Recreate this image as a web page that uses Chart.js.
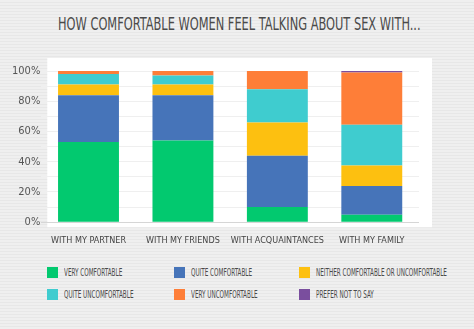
<!DOCTYPE html>
<html>
<head>
<meta charset="utf-8">
<script src="https://cdn.jsdelivr.net/npm/chart.js@4"></script>
<style>
    html, body { margin: 0; padding: 0; }
    body {
        width: 474px; height: 329px; overflow: hidden; position: relative;
        background: #ededed;
        background-image: repeating-linear-gradient(180deg, #efefef 0px, #efefef 2px, #e7e7e7 2px, #e7e7e7 3px);
        font-family: "Liberation Sans Narrow", "DejaVu Sans Condensed", sans-serif;
        color: #4a4a4a;
    }
    #title {
        position: absolute; left: 58px; top: 14px;
        font-size: 17px; white-space: nowrap;
    }
    #title span { display: inline-block; transform: scaleX(0.745); transform-origin: left center; }
    #chartBox { position: absolute; left: 0; top: 0; width: 474px; height: 255px; }
    #legend { position: absolute; left: 0; top: 267px; width: 474px; }
    .lg-item { position: absolute; height: 12px; white-space: nowrap; font-size: 10px; line-height: 12px; }
    .lg-item i { position: absolute; left: 0; top: 0; width: 11px; height: 11px; }
    .lg-item span { position: absolute; left: 17px; top: 0; display: inline-block; transform: scaleX(0.63); transform-origin: left center; }
</style>
</head>
<body>
<div id="title"><span>HOW COMFORTABLE WOMEN FEEL TALKING ABOUT SEX WITH...</span></div>
<div id="chartBox"><canvas id="chart"></canvas></div>
<div id="legend"></div>
<script>
    // ---- Data ----
    const categories = ["WITH MY PARTNER", "WITH MY FRIENDS", "WITH ACQUAINTANCES", "WITH MY FAMILY"];
    const seriesNames = [
        "VERY COMFORTABLE",
        "QUITE COMFORTABLE",
        "NEITHER COMFORTABLE OR UNCOMFORTABLE",
        "QUITE UNCOMFORTABLE",
        "VERY UNCOMFORTABLE",
        "PREFER NOT TO SAY",
    ];
    const veryComfortable     = [53, 54, 10, 5];
    const quiteComfortable    = [31, 30, 34, 19];
    const neither             = [7, 7, 22, 13.5];
    const quiteUncomfortable  = [7, 6, 22, 27];
    const veryUncomfortable   = [2, 3, 12, 34.5];
    const preferNotToSay      = [0, 0, 0, 1];
    const yTicks = [0, 20, 40, 60, 80, 100];

    const COLORS = ["#02c96f", "#4674b9", "#fdc010", "#3fcccf", "#fe7e38", "#7a4e9e"];
    const series = [veryComfortable, quiteComfortable, neither, quiteUncomfortable, veryUncomfortable, preferNotToSay];
    const FONT = "'Liberation Sans Narrow', 'DejaVu Sans Condensed', sans-serif";

    // white card behind the plot
    const panelPlugin = {
        id: "panel",
        beforeDraw(chart) {
            const a = chart.chartArea, ctx = chart.ctx;
            ctx.save();
            ctx.fillStyle = "#ffffff";
            ctx.fillRect(a.left + 6, a.top - 13, a.right - a.left + 7, a.bottom - a.top + 18);
            ctx.restore();
        },
    };

    const chart = new Chart(document.getElementById("chart"), {
        type: "bar",
        data: {
            labels: categories,
            datasets: series.map((d, i) => ({
                label: seriesNames[i],
                data: d,
                backgroundColor: COLORS[i],
                borderWidth: 0,
                barPercentage: 0.645,
                categoryPercentage: 1,
            })),
        },
        options: {
            responsive: true,
            maintainAspectRatio: false,
            animation: false,
            layout: { padding: { top: 71, left: 11, right: 55, bottom: 4 } },
            plugins: { legend: { display: false }, tooltip: { enabled: false } },
            scales: {
                x: {
                    stacked: true,
                    grid: { display: false },
                    border: { display: false },
                    ticks: { color: "#444", font: { family: FONT, size: 9 }, padding: 5, maxRotation: 0, autoSkip: false },
                },
                y: {
                    stacked: true,
                    min: 0, max: 100,
                    border: { display: false },
                    grid: {
                        drawTicks: false,
                        color: (c) => (c.tick && c.tick.value === 0 ? "#d6d6d6" : "#efefef"),
                    },
                    ticks: {
                        stepSize: 10,
                        autoSkip: false,
                        padding: 1,
                        color: "#555",
                        font: { family: FONT, size: 11 },
                        callback: (v) => (yTicks.includes(v) ? v + "%" : ""),
                    },
                },
            },
        },
        plugins: [panelPlugin],
    });

    // ---- Legend (3 columns x 2 rows) ----
    const legendCols = [47, 174, 299];
    const legendRows = [0, 22];
    const legendEl = document.getElementById("legend");
    chart.data.datasets.forEach((ds, i) => {
        const item = document.createElement("div");
        item.className = "lg-item";
        item.style.left = legendCols[i % 3] + "px";
        item.style.top = legendRows[Math.floor(i / 3)] + "px";
        item.innerHTML = '<i style="background:' + ds.backgroundColor + '"></i><span>' + ds.label + "</span>";
        legendEl.appendChild(item);
    });
</script>
</body>
</html>
